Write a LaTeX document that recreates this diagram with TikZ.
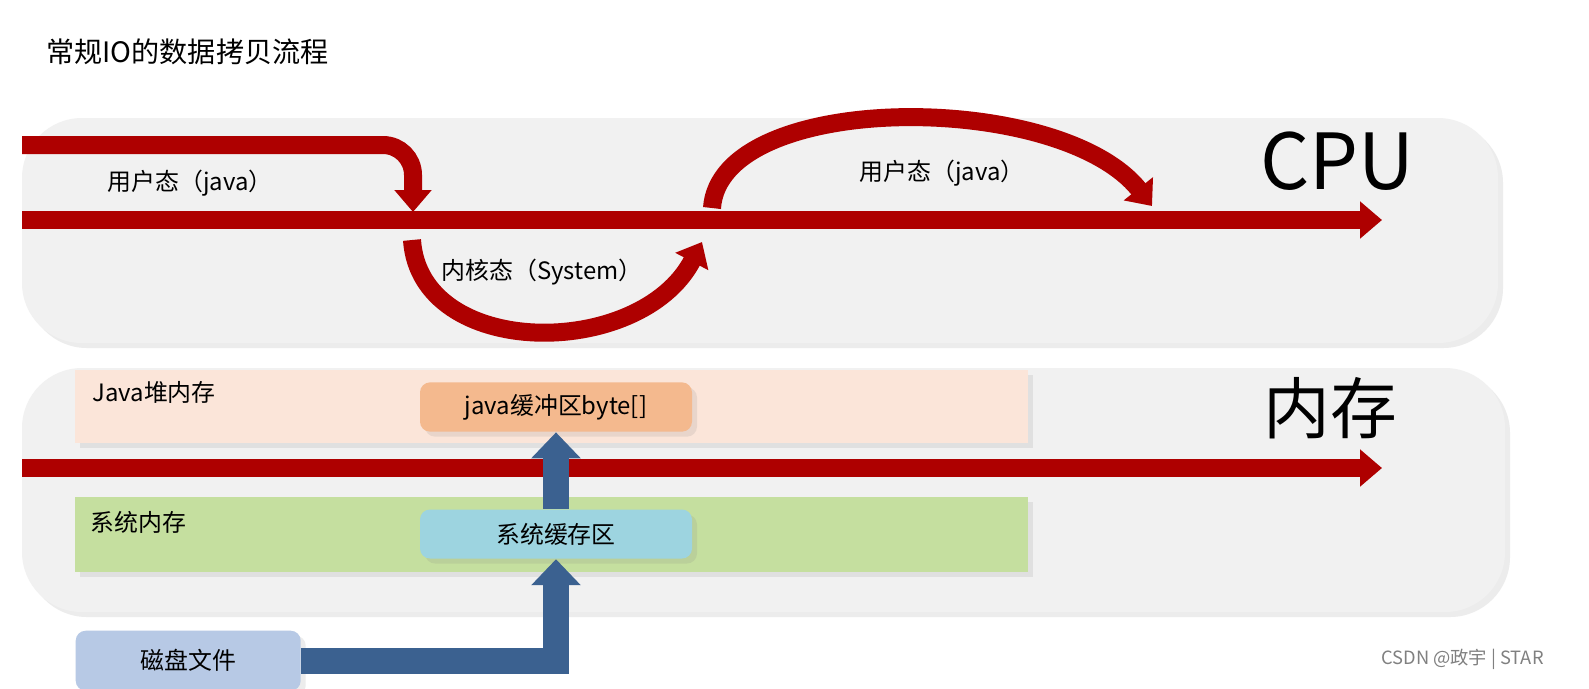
\documentclass[tikz,border=0pt]{standalone}
\usepackage{fontspec}
\setmainfont{Noto Sans CJK SC}
\usetikzlibrary{arrows.meta,shadows}
\definecolor{flowred}{HTML}{AE0000}
\definecolor{flowblue}{HTML}{3B6190}
\definecolor{panelgray}{HTML}{F1F1F1}
\definecolor{heapfill}{HTML}{FBE5D9}
\definecolor{bufffill}{HTML}{F4B98E}
\definecolor{sysfill}{HTML}{C5DF9F}
\definecolor{cachefill}{HTML}{9DD4E0}
\definecolor{diskfill}{HTML}{B7C9E5}
\tikzset{
  softshadow/.style={drop shadow={opacity=0.15, shadow xshift=0.5mm, shadow yshift=-0.5mm}},
  panel/.style={draw=none, fill=panelgray, rounded corners=6mm, softshadow},
  region/.style={draw=none, softshadow},
  box/.style={draw=none, rounded corners=1mm, font=\fontsize{6.8}{8}\selectfont, softshadow},
  redflow/.style={draw=flowred, line width=1.8mm, -{Triangle[width=3.6mm,length=2.2mm]}},
  blueflow/.style={draw=flowblue, line width=2.6mm, -{Triangle[width=4.8mm,length=2.6mm]}},
  lbl/.style={font=\fontsize{6.8}{8}\selectfont}
}
\begin{document}
\begin{tikzpicture}[x=0.1mm, y=-0.1mm]
        \useasboundingbox[fill=white] (0,0) rectangle (1589,688);
        \clip (0,0) rectangle (1589,688);
        % Title
        \node[anchor=west, font=\fontsize{8}{9}\selectfont] (title) at (34,52) {常规IO的数据拷贝流程};

        % Panels
        \fill[panel] (22,118) rectangle (1498,343);
        \fill[panel] (22,368) rectangle (1505,612);
        \node[font=\fontsize{22}{24}\selectfont] (cpu) at (1337,161) {CPU};
        \node[font=\fontsize{19}{21}\selectfont] (mem) at (1330,408) {内存};

        % CPU: main line and state switches
        \coordinate (cpuL) at (22,220);
        \coordinate (cpuR) at (1382,220);
        \draw[redflow] (cpuL) -- (cpuR);
        \draw[redflow, rounded corners=3mm] (22,145) -- (413,145) -- (413,212);
        \draw[redflow] (412,240) .. controls (420,360) and (640,360) .. (702,242);
        \draw[redflow] (712,208) .. controls (720,90) and (1060,90) .. (1152,206);
        \node[lbl] (user1) at (190,183) {用户态（java）};
        \node[lbl] (kern) at (542,272) {内核态（System）};
        \node[lbl] (user2) at (942,173) {用户态（java）};

        % Memory: heap and system areas
        \fill[region, fill=heapfill] (75,370) rectangle (1028,443);
        \node[lbl, anchor=west] (heap) at (80,392) {Java堆内存};
        \fill[region, fill=sysfill] (75,497) rectangle (1028,572);
        \node[lbl, anchor=west] (sys) at (78,522) {系统内存};
        \coordinate (memL) at (22,468);
        \coordinate (memR) at (1382,468);
        \draw[redflow] (memL) -- (memR);

        % Buffers and disk
        \node[box, fill=bufffill, minimum width=27.2mm, minimum height=4.9mm] (buf) at (556,407) {java缓冲区byte[]};
        \node[box, fill=cachefill, minimum width=27.2mm, minimum height=4.9mm] (cache) at (556,534) {系统缓存区};
        \node[box, fill=diskfill, minimum width=22.5mm, minimum height=6mm, anchor=north west] (disk) at (75,630) {磁盘文件};

        % Copy path
        \draw[blueflow] (disk.east) -| (cache.south);
        \draw[blueflow] (cache.north) -- (buf.south);

        % Watermark
        \node[anchor=east, text=gray, font=\fontsize{5.2}{6}\selectfont] (mark) at (1556,659) {CSDN @政宇 | STAR};
\end{tikzpicture}
\end{document}
